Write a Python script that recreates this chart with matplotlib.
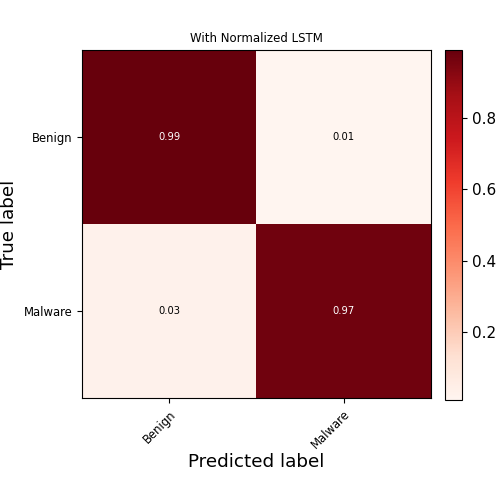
import numpy as np
import matplotlib
matplotlib.use("Agg")
import matplotlib.pyplot as plt

classes = ["Benign", "Malware"]
cm_values = [[0.99, 0.01],
             [0.03, 0.97]]
title = "With Normalized LSTM"

cm = np.array(cm_values)
W = H = 504
fig = plt.figure(figsize=(5.04, 5.04), dpi=100)
ax = fig.add_axes([82 / W, (H - 398) / H, 349 / W, 348 / H])
im = ax.imshow(cm, interpolation="nearest", cmap="Reds", aspect="auto")
ax.set_title(title, fontsize=8.5)
ax.set_xticks(np.arange(len(classes)))
ax.set_xticklabels(classes, rotation=45, ha="right", rotation_mode="anchor", fontsize=8.4)
ax.set_yticks(np.arange(len(classes)))
ax.set_yticklabels(classes, fontsize=8.4)
thresh = cm.max() / 2.0
for i in range(cm.shape[0]):
    for j in range(cm.shape[1]):
        ax.text(j, i, f"{cm[i, j]:.2f}", ha="center", va="center", fontsize=7.2,
                color="white" if cm[i, j] > thresh else "black")
ax.set_ylabel("True label", fontsize=13.2)
ax.set_xlabel("Predicted label", fontsize=13.2, labelpad=1)

cax = fig.add_axes([445 / W, (H - 400) / H, 17 / W, 350 / H])
cb = fig.colorbar(im, cax=cax)
cb.ax.tick_params(labelsize=11)
cb.set_ticks([0.2, 0.4, 0.6, 0.8])

fig.savefig("out.png", dpi=100)
